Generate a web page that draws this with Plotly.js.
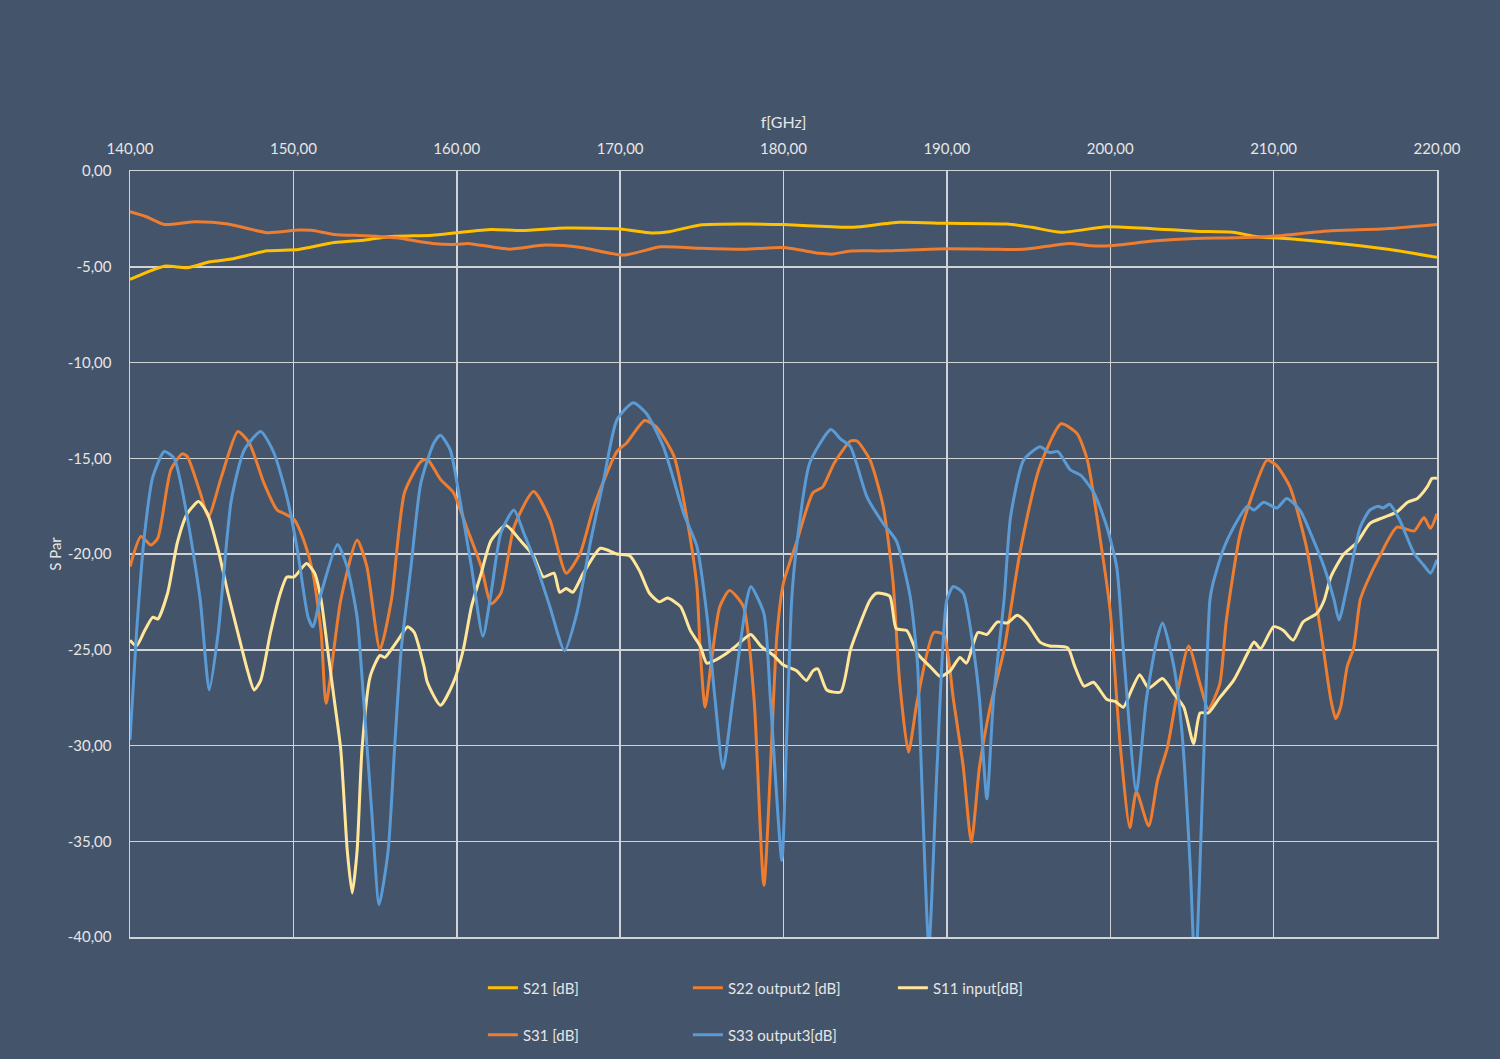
<!DOCTYPE html>
<html>
<head>
<meta charset="utf-8">
<script src="https://cdn.plot.ly/plotly-3.0.1.min.js"></script>
<style>html,body{margin:0;padding:0;background:#44546A;}#chart{width:1500px;height:1059px;}</style>
</head>
<body>
<div id="chart"></div>
<script>
// ---- Data (frequency in GHz, S-parameters in dB) ----
const s21Freq = [140,142.1,143.5,144.9,146.2,148.4,150.3,152.5,154.4,155.8,158.5,160,162.1,164,166.7,170,171.9,173,174.9,177.6,180,183,184.3,187.1,190,193.7,195.2,197,199.8,202.6,205.2,207.5,209,211,214,217,220];
const s21Val  = [-5.66,-4.97,-5.05,-4.74,-4.6,-4.17,-4.1,-3.73,-3.6,-3.43,-3.35,-3.22,-3.05,-3.11,-2.98,-3.03,-3.24,-3.17,-2.82,-2.77,-2.8,-2.91,-2.94,-2.68,-2.73,-2.77,-2.94,-3.2,-2.91,-3.01,-3.15,-3.2,-3.43,-3.54,-3.78,-4.09,-4.51];

const s31Freq = [140,141,142.1,144,146,148.4,150.3,151.1,152.5,154.4,156.3,158.5,160,160.7,163.2,165.4,167.6,170.2,172.5,174.9,177.6,180,182.2,183,184.1,186.1,190,192.5,194.7,197.5,198.8,200,202.6,205.2,207.7,210,213.5,216.6,220];
const s31Val  = [-2.13,-2.39,-2.79,-2.65,-2.77,-3.22,-3.08,-3.1,-3.31,-3.38,-3.49,-3.78,-3.83,-3.78,-4.08,-3.87,-3.99,-4.39,-3.96,-4.04,-4.09,-4.0,-4.3,-4.34,-4.18,-4.17,-4.06,-4.08,-4.09,-3.78,-3.9,-3.9,-3.66,-3.52,-3.49,-3.40,-3.12,-3.03,-2.79];

const s22Freq = [140,140.67,141.28,141.7,142.5,143.2,143.5,144.3,144.8,145.6,146.6,147.3,148.2,149.0,149.4,150.05,150.7,151.2,151.7,152.0,152.9,153.9,154.5,155.3,156.0,156.8,157.8,158.2,159.0,159.8,160.6,161.5,162.1,162.7,163.5,164.7,165.7,166.7,167.55,168.4,169.8,170.4,171.5,172.2,173.3,174.1,174.7,174.9,175.2,175.6,176.1,176.7,177.55,178.2,178.8,179.6,180.0,180.8,181.8,182.4,183.1,184.1,184.5,185.3,186.1,186.7,187.1,187.65,188.2,189.2,189.8,190.4,191.0,191.5,192.0,192.65,193.5,194.5,195.7,197.0,197.96,198.6,199.4,200.0,200.6,201.2,201.6,202.35,202.9,203.5,204.1,204.8,205.5,206.0,206.7,207.1,207.96,208.8,209.6,210.2,211.0,212.0,212.9,213.5,213.8,214.1,214.5,214.9,215.3,215.7,216.5,217.55,218.6,219.2,219.6,220];
const s22Val  = [-20.66,-19.09,-19.53,-19.18,-15.6,-14.77,-14.9,-16.8,-18.05,-15.96,-13.6,-14.2,-16.3,-17.7,-17.87,-18.2,-19.44,-21.0,-24.1,-27.8,-22.4,-19.27,-20.66,-24.99,-22.4,-16.8,-15.17,-15.05,-16.1,-16.8,-18.6,-20.66,-22.6,-22.05,-18.6,-16.74,-18.2,-21.0,-19.97,-17.5,-14.65,-14.2,-13.03,-13.35,-14.9,-18.2,-21.7,-25.0,-28.0,-25.5,-22.75,-21.9,-22.75,-27.6,-37.3,-24.2,-21.5,-19.4,-16.8,-16.5,-15.26,-14.1,-14.1,-15.1,-17.5,-21.4,-26.6,-30.35,-27.6,-24.1,-24.2,-27.6,-31.1,-35.05,-31.1,-28.0,-25.0,-19.8,-15.4,-13.2,-13.7,-15.1,-19.3,-23.0,-29.9,-34.3,-32.4,-34.2,-31.8,-30.1,-27.3,-24.8,-26.8,-28.1,-26.8,-23.5,-18.9,-16.65,-15.1,-15.4,-16.5,-19.6,-24.1,-27.6,-28.6,-28.0,-25.9,-24.9,-22.4,-21.5,-20.1,-18.6,-18.8,-18.1,-18.66,-17.9];

const s11Freq = [140,140.4,140.9,141.4,141.7,142.3,142.9,143.5,144.2,144.75,145.4,146.0,146.6,147.2,147.6,148.0,148.6,149.2,149.6,150.05,150.8,151.3,151.7,152.1,152.5,152.9,153.3,153.6,153.9,154.2,154.7,155.3,155.6,155.9,156.4,157.0,157.4,158.0,158.2,159.0,159.8,160.4,160.9,161.5,162.1,163.0,163.9,164.7,165.3,165.95,166.3,166.7,167.1,167.75,168.8,169.8,170.6,171.2,171.8,172.4,172.9,173.7,174.3,174.9,175.3,175.7,176.5,177.1,178.0,178.6,179.4,180.0,180.8,181.4,181.8,182.1,182.65,183.5,184.1,184.7,185.3,185.7,186.5,186.9,187.55,188.2,189.0,189.6,190.2,190.8,191.2,191.9,192.45,193.1,193.7,194.3,194.9,195.7,196.3,197.4,197.8,198.4,198.97,199.8,200.3,200.8,201.3,201.8,202.35,203.2,203.9,204.5,205.1,205.5,206.0,206.7,207.55,208.4,208.8,209.2,210.0,210.6,211.2,211.8,212.65,213.1,213.5,214.3,215.1,215.9,216.7,217.55,218.2,218.8,219.4,219.7,220];
const s11Val  = [-24.5,-24.8,-24.0,-23.3,-23.4,-22.05,-19.4,-17.9,-17.26,-17.9,-19.8,-22.05,-24.1,-26.1,-27.1,-26.6,-24.1,-22.05,-21.2,-21.2,-20.5,-21.0,-22.4,-25.0,-27.6,-30.2,-35.5,-37.7,-35.5,-30.2,-26.4,-25.3,-25.4,-25.1,-24.5,-23.8,-24.1,-25.9,-26.7,-27.9,-26.7,-25.0,-22.75,-21.0,-19.3,-18.5,-19.3,-20.1,-21.2,-21.0,-22.0,-21.8,-22.0,-21.0,-19.7,-20.0,-20.1,-20.9,-22.05,-22.5,-22.3,-22.75,-24.0,-24.8,-25.7,-25.6,-25.2,-24.8,-24.2,-24.8,-25.3,-25.8,-26.1,-26.6,-26.1,-26.0,-27.1,-27.2,-25.0,-23.6,-22.4,-22.05,-22.2,-23.9,-24.0,-25.2,-25.9,-26.4,-26.1,-25.4,-25.7,-24.1,-24.2,-23.55,-23.6,-23.2,-23.6,-24.6,-24.8,-24.9,-25.8,-26.9,-26.7,-27.6,-27.7,-28.0,-27.1,-26.3,-27.0,-26.5,-27.3,-28.0,-29.9,-28.3,-28.3,-27.5,-26.6,-25.2,-24.6,-24.95,-23.8,-24.0,-24.5,-23.55,-23.1,-22.4,-21.2,-20.0,-19.4,-18.4,-18.1,-17.8,-17.3,-17.1,-16.5,-16.05,-16.05];

const s33Freq = [140,140.4,140.9,141.4,142.1,142.7,143.5,144.3,144.85,145.4,146.2,147.0,148.0,148.8,149.6,150.25,150.9,151.2,151.7,152.7,153.3,153.9,154.3,154.8,155.25,155.8,156.2,156.6,157.2,157.8,158.6,159.0,159.6,160.2,160.9,161.6,162.1,162.7,163.5,164.1,164.9,165.7,166.6,167.35,168.2,169.0,169.8,170.8,171.6,172.65,173.9,174.7,175.3,175.8,176.3,176.9,177.75,178.0,178.8,179.2,179.9,180.2,180.5,180.8,181.6,182.9,183.5,184.1,185.1,186.1,186.9,187.75,188.2,188.4,188.9,189.4,190.0,190.4,191.0,191.6,192.0,192.45,192.85,193.5,193.9,194.7,195.7,196.3,196.8,197.55,198.2,199.0,199.8,200.4,200.8,201.6,202.2,202.85,203.2,203.9,204.4,204.9,205.2,205.7,206.1,206.3,206.9,207.55,208.4,208.8,209.4,210.2,210.8,211.6,212.45,213.1,213.7,214.0,214.5,215.3,215.9,216.4,216.7,217.1,217.7,218.6,219.2,219.6,220];
const s33Val  = [-29.7,-24.1,-18.9,-15.96,-14.65,-15.0,-18.05,-22.4,-27.1,-24.1,-17.2,-14.56,-13.6,-14.7,-17.0,-19.8,-23.3,-23.8,-22.05,-19.5,-20.7,-23.3,-27.6,-33.5,-38.3,-35.5,-30.05,-25.0,-20.66,-16.3,-14.2,-13.8,-14.56,-17.2,-20.66,-24.3,-22.05,-18.9,-17.7,-18.9,-20.66,-22.75,-25.05,-23.1,-19.3,-16.1,-13.0,-12.1,-12.65,-14.4,-17.9,-19.6,-23.1,-27.5,-31.2,-27.6,-22.4,-21.7,-23.1,-27.6,-36.0,-29.4,-22.4,-19.6,-15.26,-13.5,-14.0,-14.4,-17.0,-18.4,-19.3,-22.2,-25.7,-30.3,-40.5,-31.1,-22.4,-21.7,-22.05,-24.8,-27.6,-32.8,-27.6,-22.4,-18.05,-15.1,-14.4,-14.7,-14.65,-15.6,-15.9,-16.8,-18.6,-20.7,-25.0,-32.4,-27.65,-24.5,-23.6,-25.9,-29.4,-36.4,-42.0,-31.1,-22.4,-21.5,-19.8,-18.6,-17.5,-17.7,-17.3,-17.6,-17.1,-17.7,-19.3,-20.7,-22.4,-23.45,-21.7,-18.6,-17.7,-17.5,-17.6,-17.4,-18.2,-19.97,-20.6,-21.0,-20.3];

const xTickVals = [140,150,160,170,180,190,200,210,220];
const xTickText = ["140,00","150,00","160,00","170,00","180,00","190,00","200,00","210,00","220,00"];
const yTickVals = [0,-5,-10,-15,-20,-25,-30,-35,-40];
const yTickText = ["0,00","-5,00","-10,00","-15,00","-20,00","-25,00","-30,00","-35,00","-40,00"];

// ---- Styles ----
const C_S21 = '#FFC000', C_ORANGE = '#ED7D31', C_S11 = '#FFE699', C_S33 = '#5B9BD5';
const txt = '#E6E6E6', gridC = '#D0D3D8';
const FONT = 'Lato, "Open Sans", sans-serif';

function tr(name, x, y, color, legend) {
  return {x: x, y: y, name: name, type: 'scatter', mode: 'lines',
          line: {color: color, width: 3, shape: 'spline', smoothing: 0.6},
          legend: legend, hoverinfo: 'skip'};
}

const data = [
  tr('S21 [dB]', s21Freq, s21Val, C_S21, 'legend'),
  tr('S22 output2 [dB]', s22Freq, s22Val, C_ORANGE, 'legend'),
  tr('S11 input[dB]', s11Freq, s11Val, C_S11, 'legend'),
  tr('S31 [dB]', s31Freq, s31Val, C_ORANGE, 'legend2'),
  tr('S33 output3[dB]', s33Freq, s33Val, C_S33, 'legend2')
];

const legendCommon = {
  orientation: 'h', xanchor: 'left', yanchor: 'middle',
  bgcolor: 'rgba(0,0,0,0)', font: {family: FONT, size: 15, color: txt},
  entrywidth: 160, entrywidthmode: 'pixels', itemwidth: 30, tracegroupgap: 0
};

const layout = {
  width: 1500, height: 1059,
  paper_bgcolor: '#44546A', plot_bgcolor: '#44546A',
  margin: {l: 130, r: 63, t: 171, b: 122, autoexpand: false},
  font: {family: FONT, size: 15, color: txt},
  showlegend: true,
  xaxis: {
    side: 'top', range: [140, 220], tickmode: 'array', tickvals: xTickVals, ticktext: xTickText,
    showgrid: true, gridcolor: gridC, gridwidth: 1.5, zeroline: false,
    showline: true, linecolor: gridC, linewidth: 1.5, mirror: true,
    ticks: '', ticklabelstandoff: 10, tickfont: {family: FONT, size: 15, color: txt},
    title: {text: 'f[GHz]', font: {family: FONT, size: 16, color: txt}, standoff: 6}
  },
  yaxis: {
    range: [-40, 0], tickmode: 'array', tickvals: yTickVals, ticktext: yTickText,
    showgrid: true, gridcolor: gridC, gridwidth: 1.5, zeroline: false,
    showline: true, linecolor: gridC, linewidth: 1.5, mirror: true,
    ticks: '', ticklabelstandoff: 14, tickfont: {family: FONT, size: 15, color: txt},
    title: {text: 'S Par', font: {family: FONT, size: 15, color: txt}, standoff: 2}
  },
  legend: Object.assign({x: 0.27, y: -0.0666}, legendCommon),
  legend2: Object.assign({x: 0.27, y: -0.128}, legendCommon)
};

Plotly.newPlot('chart', data, layout, {staticPlot: true, displayModeBar: false});
</script>
</body>
</html>
